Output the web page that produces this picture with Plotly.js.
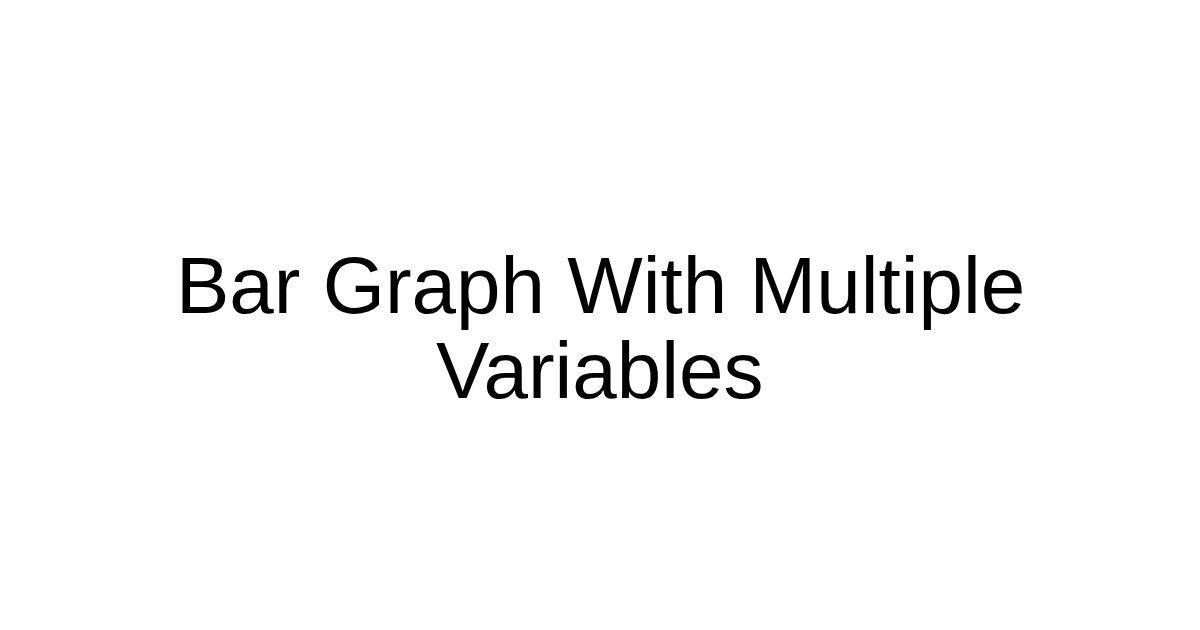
<!DOCTYPE html>
<html>
<head>
<meta charset="utf-8">
<script src="https://cdn.plot.ly/plotly-3.0.1.min.js"></script>
<style>
  html, body { margin: 0; padding: 0; background: #fff; }
  #chart { width: 1200px; height: 630px; }
</style>
</head>
<body>
<div id="chart"></div>
<script>
// the picture only holds a caption, split over two lines
const titleLines = ['Bar Graph With Multiple', 'Variables'];
const lineCenters = [286, 370];  // px from top, middle of each line

const W = 1200, H = 630;

const annotations = titleLines.map(function (line, i) {
    return {
        text: line,
        xref: 'paper', yref: 'paper',
        x: 0.5, y: 1 - lineCenters[i] / H,
        xanchor: 'center', yanchor: 'middle',
        showarrow: false,
        font: { family: 'Liberation Sans, Arial, sans-serif', size: 80, color: '#000' }
    };
});

const layout = {
    width: W, height: H,
    margin: { l: 0, r: 0, t: 0, b: 0 },
    paper_bgcolor: '#fff',
    plot_bgcolor: '#fff',
    xaxis: { visible: false, range: [0, 1] },
    yaxis: { visible: false, range: [0, 1] },
    showlegend: false,
    annotations: annotations
};

Plotly.newPlot('chart', [], layout, { staticPlot: true, displayModeBar: false });
</script>
</body>
</html>
